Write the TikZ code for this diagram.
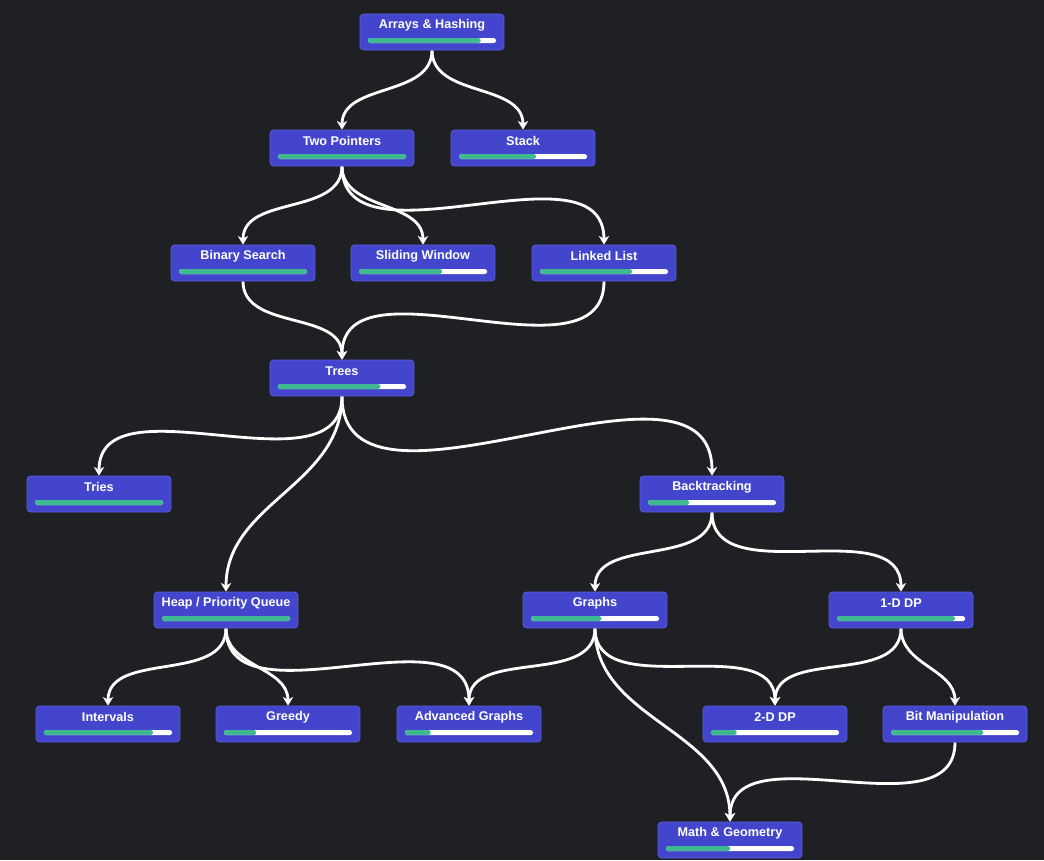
\documentclass[tikz,border=0pt]{standalone}
\usepackage{fontspec}
\setmainfont{Liberation Sans}
\usetikzlibrary{calc,arrows.meta,backgrounds}

\definecolor{bg}{HTML}{1F2024}
\definecolor{box}{HTML}{4346CC}
\definecolor{boxline}{HTML}{5A5FE0}
\definecolor{done}{HTML}{3FB98F}

% one topic box with its progress bar
\newcommand{\topic}[5]{%
  \node[topic] (#1) at (#2,#3) {};
  \node[title] (#1-t) at ($(#1.center)+(0,-7)$) {#4};
  \fill[white, rounded corners=1pt] ($(#1.center)+(-64,6)$) rectangle ($(#1.center)+(64,11)$);
  \fill[done, rounded corners=1pt] ($(#1.center)+(-64,6)$) rectangle ($(#1.center)+(-64+128*#5,11)$);
}

\begin{document}
\begin{tikzpicture}[x=0.02cm, y=-0.02cm,
      topic/.style={
            rectangle, draw=boxline, fill=box, rounded corners=2pt,
            minimum width=2.88cm, minimum height=0.72cm, inner sep=0pt
        },
      title/.style={
            text=white, font=\fontsize{7.2}{8}\selectfont\bfseries, inner sep=0pt
        },
      edge/.style={
            draw=white, line width=1.6pt, -{Stealth[length=5pt,width=6pt]}
        }
      ]
    \useasboundingbox (0,0) rectangle (1044,860);

    \topic{arrays}{432}{32}{Arrays \& Hashing}{0.88}
    \topic{twoptr}{342}{148}{Two Pointers}{1}
    \topic{stack}{523}{148}{Stack}{0.6}
    \topic{bsearch}{243}{263}{Binary Search}{1}
    \topic{window}{423}{263}{Sliding Window}{0.65}
    \topic{llist}{604}{263}{Linked List}{0.72}
    \topic{trees}{342}{378}{Trees}{0.8}
    \topic{tries}{99}{494}{Tries}{1}
    \topic{backtr}{712}{494}{Backtracking}{0.32}
    \topic{heap}{226}{610}{Heap / Priority Queue}{1}
    \topic{graphs}{595}{610}{Graphs}{0.55}
    \topic{dp1}{901}{610}{1-D DP}{0.92}
    \topic{intervals}{108}{724}{Intervals}{0.85}
    \topic{greedy}{288}{724}{Greedy}{0.25}
    \topic{advgraphs}{469}{724}{Advanced Graphs}{0.2}
    \topic{dp2}{775}{724}{2-D DP}{0.2}
    \topic{bits}{955}{724}{Bit Manipulation}{0.72}
    \topic{math}{730}{840}{Math \& Geometry}{0.5}

    \begin{scope}[on background layer]
    \fill[bg] (0,0) rectangle (1044,860);
    \draw[edge] (arrays.south) to[out=-90,in=90] (twoptr.north);
    \draw[edge] (arrays.south) to[out=-90,in=90] (stack.north);
    \draw[edge] (twoptr.south) to[out=-90,in=90] (bsearch.north);
    \draw[edge] (twoptr.south) to[out=-90,in=90] (window.north);
    \draw[edge] (twoptr.south) to[out=-90,in=90] (llist.north);
    \draw[edge] (bsearch.south) to[out=-90,in=90] (trees.north);
    \draw[edge] (llist.south) to[out=-90,in=90] (trees.north);
    \draw[edge] (trees.south) to[out=-90,in=90] (tries.north);
    \draw[edge] (trees.south) to[out=-90,in=90] (backtr.north);
    \draw[edge] (trees.south) to[out=-90,in=90] (heap.north);
    \draw[edge] (backtr.south) to[out=-90,in=90] (graphs.north);
    \draw[edge] (backtr.south) to[out=-90,in=90] (dp1.north);
    \draw[edge] (heap.south) to[out=-90,in=90] (intervals.north);
    \draw[edge] (heap.south) to[out=-90,in=90] (greedy.north);
    \draw[edge] (heap.south) to[out=-90,in=90] (advgraphs.north);
    \draw[edge] (graphs.south) to[out=-90,in=90] (advgraphs.north);
    \draw[edge] (graphs.south) to[out=-90,in=90] (dp2.north);
    \draw[edge] (dp1.south) to[out=-90,in=90] (dp2.north);
    \draw[edge] (dp1.south) to[out=-90,in=90] (bits.north);
    \draw[edge] (graphs.south) to[out=-90,in=90] (math.north);
    \draw[edge] (bits.south) to[out=-90,in=90] (math.north);
    \end{scope}
  \end{tikzpicture}
\end{document}
